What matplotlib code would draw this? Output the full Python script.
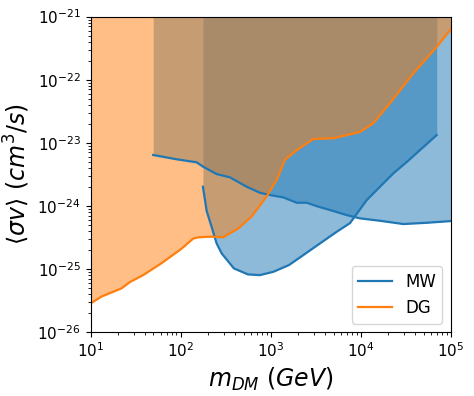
import numpy as np
import matplotlib
matplotlib.use('Agg')
import matplotlib.pyplot as plt

# MW - curva superiore (log10 m, log10 sigma v)
mw1_logm = [1.696, 1.956, 2.178, 2.251, 2.40, 2.548, 2.733, 2.881, 2.992, 3.140,
            3.289, 3.40, 3.526, 3.659, 3.844, 3.992, 4.214, 4.473, 4.733, 5.0]
mw1_logsv = [-23.195, -23.263, -23.311, -23.381, -23.497, -23.549, -23.698, -23.794, -23.830, -23.867,
             -23.952, -23.952, -24.013, -24.068, -24.148, -24.200, -24.238, -24.290, -24.270, -24.243]

# MW - curva inferiore
mw2_logm = [2.248, 2.289, 2.344, 2.40, 2.456, 2.592, 2.748, 2.881, 3.029, 3.203,
            3.37, 3.548, 3.733, 3.881, 4.067, 4.214, 4.362, 4.511, 4.659, 4.844]
mw2_logsv = [-23.698, -24.08, -24.333, -24.597, -24.756, -24.994, -25.089, -25.10, -25.048, -24.941,
             -24.775, -24.597, -24.413, -24.275, -23.909, -23.698, -23.486, -23.306, -23.116, -22.878]

# DG
dg_logm = [1.0, 1.122, 1.344, 1.437, 1.584, 1.789, 2.011, 2.140, 2.196, 2.344, 2.473,
           2.640, 2.789, 2.956, 3.067, 3.159, 3.289, 3.473, 3.696, 3.992, 4.140,
           4.326, 4.584, 4.844, 5.0]
dg_logsv = [-25.55, -25.44, -25.31, -25.21, -25.10, -24.91, -24.68, -24.52, -24.50, -24.49, -24.50,
            -24.36, -24.17, -23.85, -23.59, -23.27, -23.12, -22.94, -22.93, -22.83, -22.69,
            -22.37, -21.90, -21.48, -21.20]

xticks = [1e1, 1e2, 1e3, 1e4, 1e5]
yticks = [1e-26, 1e-25, 1e-24, 1e-23, 1e-22, 1e-21]
top = 1e-21

fig = plt.figure(figsize=(4.74, 3.96), dpi=100)
ax = fig.add_axes([0.191, 0.162, 0.760, 0.796])

m1, s1 = 10**np.array(mw1_logm), 10**np.array(mw1_logsv)
m2, s2 = 10**np.array(mw2_logm), 10**np.array(mw2_logsv)
md, sd = 10**np.array(dg_logm), 10**np.array(dg_logsv)

ax.plot(m1, s1, color='C0', lw=1.6, label='MW')
ax.fill_between(m1, s1, top, color='C0', alpha=0.5, lw=0)
ax.plot(m2, s2, color='C0', lw=1.6)
ax.fill_between(m2, s2, top, color='C0', alpha=0.5, lw=0)
ax.plot(md, sd, color='C1', lw=1.6, label='DG')
ax.fill_between(md, sd, top, color='C1', alpha=0.5, lw=0)

ax.set_xscale('log')
ax.set_yscale('log')
ax.set_xticks(xticks)
ax.set_yticks(yticks)
ax.set_xlim(1e1, 1e5)
ax.set_ylim(1e-26, 1e-21)
ax.tick_params(labelsize=11)
ax.set_xlabel(r'$m_{DM}\ (GeV)$', fontsize=17)
ax.set_ylabel(r'$\langle\sigma v\rangle\ (cm^3/s)$', fontsize=17)
ax.legend(loc='lower right', fontsize=12)

fig.savefig('out.png', dpi=100)
